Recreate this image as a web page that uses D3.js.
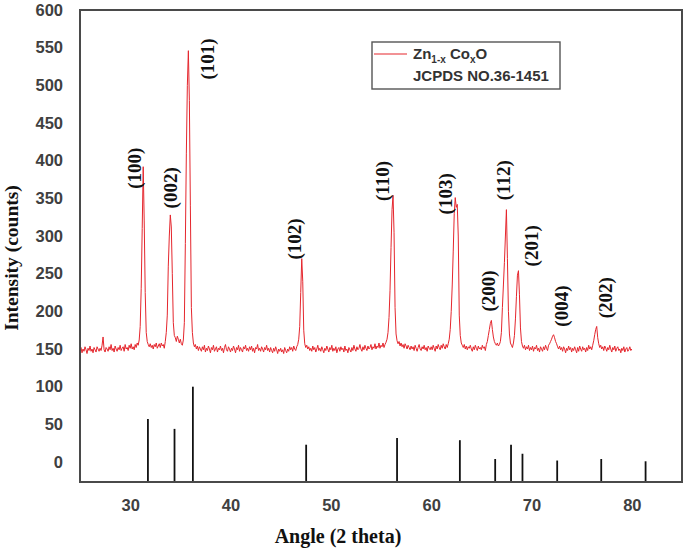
<!DOCTYPE html>
<html><head><meta charset="utf-8">
<script src="https://cdn.jsdelivr.net/npm/d3@7/dist/d3.min.js"></script>
<style>body{margin:0;background:#fff}</style>
</head><body><svg id="c" width="685" height="549"></svg>
<script>
// XRD scan: start angle, step (degrees 2θ) and counts, one row per degree
const scanStart = 25.0, scanStep = 0.1;
const scanCounts = [
/*25*/148,152,145,150,147,153,149,144,151,148,
/*26*/154,147,150,145,152,149,146,153,150,147,
/*27*/151,148,155,166,149,146,152,150,147,153,
/*28*/149,156,148,151,146,154,150,147,152,149,
/*29*/155,148,151,153,147,156,150,152,148,155,
/*30*/151,157,150,153,149,156,152,158,155,162,
/*31*/180,230,310,392,320,225,172,160,156,153,
/*32*/157,152,155,150,156,153,158,151,154,157,
/*33*/152,158,154,156,151,160,172,195,260,300,
/*34*/328,312,250,185,168,165,160,167,163,158,
/*35*/163,157,155,162,185,290,410,500,546,480,
/*36*/340,205,172,158,153,156,150,154,148,153,
/*37*/150,147,153,149,155,146,151,148,154,150,
/*38*/145,152,149,155,147,150,153,146,151,149,
/*39*/154,148,151,145,152,156,149,147,153,150,
/*40*/146,151,148,154,150,145,152,149,155,147,
/*41*/152,149,146,153,150,155,148,151,147,153,
/*42*/149,154,147,151,145,152,150,156,148,151,
/*43*/147,153,150,146,152,149,155,148,151,146,
/*44*/152,148,145,151,147,153,149,144,150,147,
/*45*/151,146,149,144,152,148,145,150,147,153,
/*46*/149,152,147,154,150,148,153,156,163,180,
/*47*/225,270,240,175,157,152,155,150,153,148,
/*48*/151,147,154,149,152,146,150,155,148,151,
/*49*/147,153,149,145,151,148,154,150,146,152,
/*50*/149,155,147,151,148,153,145,150,152,147,
/*51*/153,149,151,146,154,148,150,145,152,149,
/*52*/146,152,148,155,150,147,153,149,151,156,
/*53*/150,147,153,149,155,151,148,154,150,152,
/*54*/156,149,153,151,157,150,154,152,158,151,
/*55*/155,153,158,152,156,159,163,172,192,228,
/*56*/285,335,354,305,205,170,161,157,160,154,
/*57*/158,153,156,151,157,154,150,155,152,149,
/*58*/154,150,153,148,155,151,147,152,156,150,
/*59*/148,153,150,155,149,152,147,154,151,149,
/*60*/153,149,155,151,147,154,150,156,152,149,
/*61*/155,151,157,153,150,156,152,157,163,176,
/*62*/200,235,280,330,351,338,342,300,195,168,
/*63*/158,155,152,156,150,154,149,153,151,155,
/*64*/150,147,153,149,155,151,148,154,150,152,
/*65*/149,155,151,153,148,156,160,168,176,184,
/*66*/188,176,166,160,157,155,158,154,156,160,
/*67*/172,205,235,265,300,335,270,200,170,158,
/*68*/155,152,158,168,190,220,248,254,222,178,
/*69*/160,154,151,155,149,153,150,155,148,152,
/*70*/149,154,147,152,150,155,148,151,146,153,
/*71*/150,147,153,149,155,151,148,155,157,160,
/*72*/163,167,169,165,160,157,153,150,154,149,
/*73*/152,147,153,150,145,151,148,154,149,152,
/*74*/146,151,148,153,149,145,152,147,154,150,
/*75*/147,153,149,151,146,152,148,155,150,153,
/*76*/149,155,161,169,176,180,165,157,152,155,
/*77*/150,153,148,154,151,147,152,149,155,150,
/*78*/146,152,149,154,147,151,153,148,150,145,
/*79*/151,148,153,146,150,152,147,149,153,148,
/*80*/150
];

// JCPDS No. 36-1451 reference lines
const stickAngle = [31.77, 34.42, 36.25, 47.54, 56.60, 62.86, 66.38, 67.96, 69.10, 72.56, 76.95, 81.37];
const stickIntensity = [57, 44, 100, 23, 32, 29, 4, 23, 11, 2, 4, 1];

// Miller index labels (anchored in data coordinates)
const peakLabels = ["(100)","(002)","(101)","(102)","(110)","(103)","(200)","(112)","(201)","(004)","(202)"];
const peakLabelAngle = [30.4, 34.0, 37.75, 46.4, 55.1, 61.4, 65.75, 67.25, 70.0, 72.95, 77.4];
const peakLabelCounts = [390, 364, 535, 296, 373, 356, 227, 374, 287, 207, 218];

const xTickValues = [30, 40, 50, 60, 70, 80];
const yTickValues = [0, 50, 100, 150, 200, 250, 300, 350, 400, 450, 500, 550, 600];

const svg = d3.select("#c");
svg.append("rect").attr("width",685).attr("height",549).attr("fill","#fff");

const x = d3.scaleLinear().domain([25, 85]).range([80, 682]);
const y = d3.scaleLinear().domain([-26.5, 600]).range([482, 10]);

const tickFont = "'Liberation Sans', Arial, sans-serif";
const serif = "'Liberation Serif', 'Times New Roman', serif";

// axes (labels only, no tick marks)
const gx = svg.append("g").attr("transform","translate(0,482)")
  .call(d3.axisBottom(x).tickValues(xTickValues).tickSize(0).tickPadding(17).tickFormat(d3.format("d")));
const gy = svg.append("g").attr("transform","translate(80,0)")
  .call(d3.axisLeft(y).tickValues(yTickValues).tickSize(0).tickPadding(17).tickFormat(d3.format("d")));
[gx, gy].forEach(g => {
  g.select(".domain").remove();
  g.selectAll("text").attr("font-family", tickFont).attr("font-weight","bold")
    .attr("font-size","16.5px").attr("fill","#404040");
});

// XRD curve
const scan = scanCounts.map((c, i) => [scanStart + i * scanStep, c]);
svg.append("path").datum(scan)
  .attr("fill","none").attr("stroke","#e5262d").attr("stroke-width",1)
  .attr("stroke-linejoin","round")
  .attr("d", d3.line().x(d => x(d[0])).y(d => y(d[1])));

// reference sticks
svg.append("g").selectAll("line").data(stickAngle).join("line")
  .attr("x1", d => x(d)).attr("x2", d => x(d))
  .attr("y1", y(-26.5)).attr("y2", (d, i) => y(stickIntensity[i]))
  .attr("stroke","#111").attr("stroke-width",1.8);

// peak labels
svg.append("g").selectAll("text").data(peakLabels).join("text")
  .attr("transform", (d, i) => `translate(${x(peakLabelAngle[i])},${y(peakLabelCounts[i])}) rotate(-90)`)
  .attr("text-anchor","middle").attr("dominant-baseline","central")
  .attr("font-family", serif).attr("font-weight","bold").attr("font-size","19px")
  .attr("fill","#111").text(d => d);

// frame
svg.append("rect").attr("x",80).attr("y",10).attr("width",602).attr("height",472)
  .attr("fill","none").attr("stroke","#4a4a4a").attr("stroke-width",2);

// legend
const lg = svg.append("g");
lg.append("rect").attr("x",372).attr("y",42).attr("width",188).attr("height",47)
  .attr("fill","#fff").attr("stroke","#555").attr("stroke-width",1.4);
lg.append("line").attr("x1",374).attr("x2",407).attr("y1",54).attr("y2",54)
  .attr("stroke","#e5262d").attr("stroke-width",1.2);
const t1 = lg.append("text").attr("x",413).attr("y",59)
  .attr("font-family", tickFont).attr("font-weight","bold").attr("font-size","15px").attr("fill","#333");
t1.append("tspan").text("Zn");
t1.append("tspan").attr("font-size","10px").attr("dy",4).text("1-x");
t1.append("tspan").attr("dy",-4).text(" Co");
t1.append("tspan").attr("font-size","10px").attr("dy",4).text("x");
t1.append("tspan").attr("dy",-4).text("O");
lg.append("text").attr("x",413).attr("y",81)
  .attr("font-family", tickFont).attr("font-weight","bold").attr("font-size","15px").attr("fill","#333")
  .text("JCPDS NO.36-1451");

// axis titles
svg.append("text").attr("transform","translate(18,258) rotate(-90)")
  .attr("text-anchor","middle").attr("font-family", serif).attr("font-weight","bold")
  .attr("font-size","19.5px").attr("fill","#111").text("Intensity (counts)");
svg.append("text").attr("x",338).attr("y",543)
  .attr("text-anchor","middle").attr("font-family", serif).attr("font-weight","bold")
  .attr("font-size","20px").attr("fill","#111").text("Angle (2 theta)");
</script></body></html>
